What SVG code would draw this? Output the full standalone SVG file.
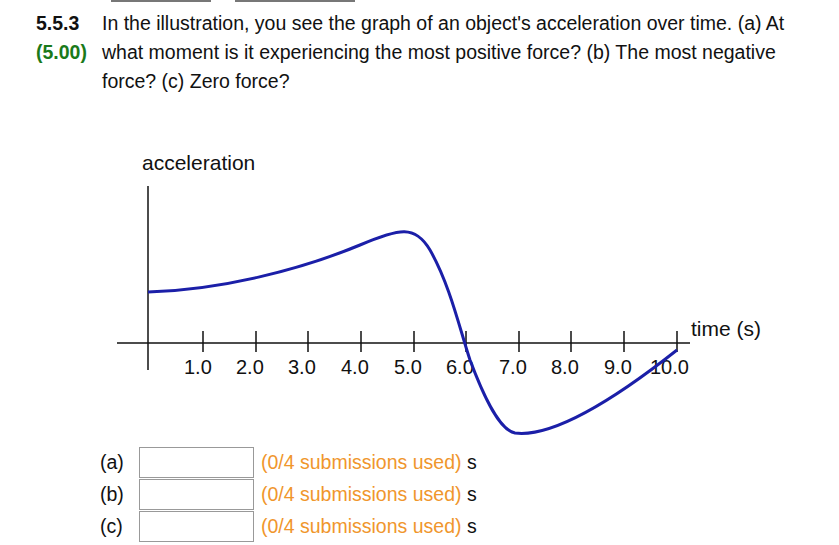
<svg xmlns="http://www.w3.org/2000/svg" width="839" height="545" viewBox="0 0 839 545">
<style>
text{font-family:"Liberation Sans",Arial,sans-serif;font-size:19.5px;fill:#111}
.ax{stroke:#111;stroke-width:1.5;fill:none}
.t{font-size:20px}
.or{fill:#f0962c}
.box{fill:#fff;stroke:#999;stroke-width:1}
</style>
<rect width="839" height="545" fill="#fff"/>
<rect x="111" y="0" width="100" height="2" fill="#777"/>
<rect x="235" y="0" width="120" height="2" fill="#777"/>
<g id="header">
<text x="36" y="30" font-weight="bold">5.5.3</text>
<text x="36" y="59" font-weight="bold" style="fill:#1a7a1a">(5.00)</text>
<text x="102" y="30">In the illustration, you see the graph of an object's acceleration over time. (a) At</text>
<text x="102" y="59">what moment is it experiencing the most positive force? (b) The most negative</text>
<text x="102" y="88">force? (c) Zero force?</text>
</g>
<g id="graph">
<text x="142" y="170" class="t" style="font-size:21px">acceleration</text>
<line class="ax" x1="148" y1="186" x2="148" y2="370"/>
<line class="ax" x1="117" y1="343" x2="690" y2="343"/>
<path class="ax" d="M203 331V352M256 331V352M308 331V352M361 331V352M414 331V352M466 331V352M519 331V352M571 331V352M624 331V352M677 331V352"/>
<text x="691" y="336" style="font-size:21px">time (s)</text>
<g>
<text x="184" y="374" class="t">1.0</text>
<text x="236" y="374" class="t">2.0</text>
<text x="288" y="374" class="t">3.0</text>
<text x="341" y="374" class="t">4.0</text>
<text x="394" y="374" class="t">5.0</text>
<text x="446" y="374" class="t">6.0</text>
<text x="499" y="374" class="t">7.0</text>
<text x="551" y="374" class="t">8.0</text>
<text x="604" y="374" class="t">9.0</text>
<text x="650" y="374" class="t">10.0</text>
</g>
<path d="M148 292 C220 290 300 270 360 245 C400 228 415 225 430 250 C450 285 460 330 470 360 C485 400 500 430 515 433 C555 438 620 395 677 350" fill="none" stroke="#1b1fa8" stroke-width="3"/>
</g>
<g id="answers">
<text x="100" y="469">(a)</text>
<text x="100" y="501">(b)</text>
<text x="100" y="533">(c)</text>
<rect class="box" x="139.5" y="447.5" width="114" height="30"/>
<rect class="box" x="139.5" y="479.5" width="114" height="30"/>
<rect class="box" x="139.5" y="511.5" width="114" height="30"/>
<text x="261" y="469"><tspan class="or">(0/4 submissions used)</tspan> s</text>
<text x="261" y="501"><tspan class="or">(0/4 submissions used)</tspan> s</text>
<text x="261" y="533"><tspan class="or">(0/4 submissions used)</tspan> s</text>
</g>
</svg>
